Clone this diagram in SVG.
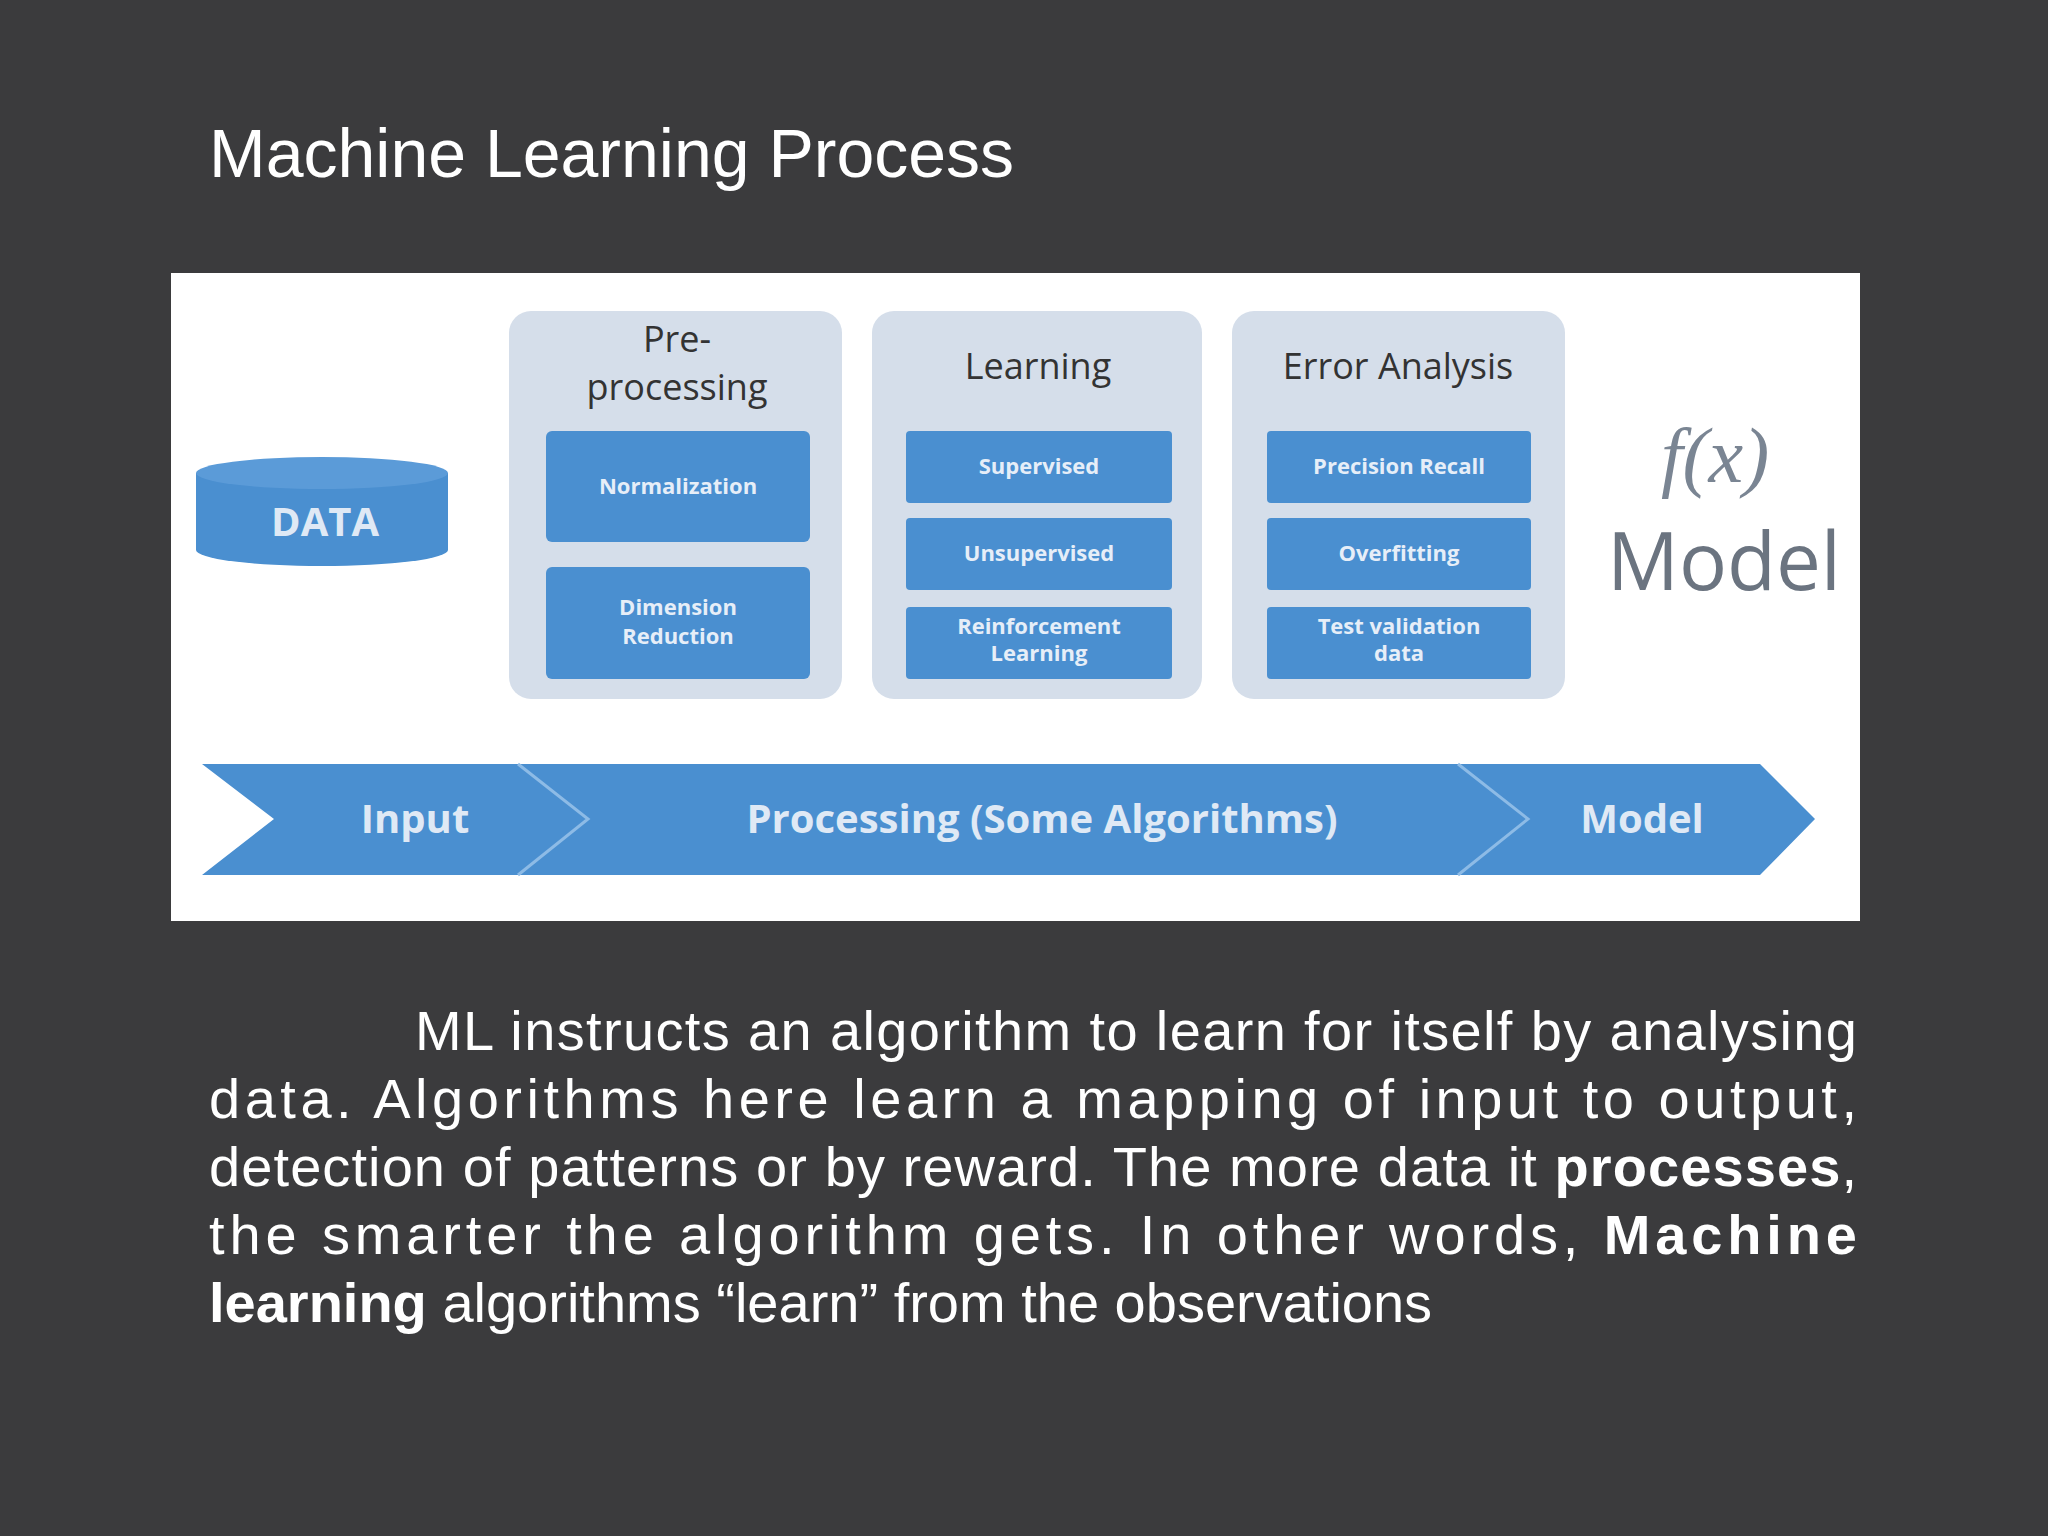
<svg xmlns="http://www.w3.org/2000/svg" width="2048" height="1536" viewBox="0 0 2048 1536">
<style>
.pn{fill:#d5deea}
.bx{fill:#4a8fd0}
.pt{font-family:"Open Sans","Liberation Sans",sans-serif;font-size:36px;fill:#333;text-anchor:middle}
.bt{font-family:"Open Sans","Liberation Sans",sans-serif;font-size:22px;fill:#e6eef8;text-anchor:middle;font-weight:bold}
.at{font-family:"Open Sans","Liberation Sans",sans-serif;font-size:40px;fill:#dfe9f5;text-anchor:middle;font-weight:bold}
.p{font-family:"Liberation Sans",Arial,sans-serif;font-size:56px;fill:#fff}
</style>
<rect width="2048" height="1536" fill="#3b3b3d"/>
<text x="209" y="177" font-family="Liberation Sans,Arial,sans-serif" font-size="68" fill="#fff">Machine Learning Process</text>
<rect x="171" y="273" width="1689" height="648" fill="#fff"/>
<g id="data">
<path d="M196 473 V550 A126 16 0 0 0 448 550 V473 Z" class="bx"/>
<ellipse cx="322" cy="473" rx="126" ry="16" fill="#5b9bd8"/>
<text x="325" y="536" class="at" font-size="34">DATA</text>
</g>
<g id="preprocessing">
<rect x="509" y="311" width="333" height="388" rx="22" class="pn"/>
<text x="677" y="352" class="pt">Pre-</text>
<text x="677" y="400" class="pt">processing</text>
<rect x="546" y="431" width="264" height="111" rx="6" class="bx"/>
<text x="678" y="494" class="bt">Normalization</text>
<rect x="546" y="567" width="264" height="112" rx="6" class="bx"/>
<text x="678" y="615" class="bt">Dimension</text>
<text x="678" y="644" class="bt">Reduction</text>
</g>
<g id="learning">
<rect x="872" y="311" width="330" height="388" rx="22" class="pn"/>
<text x="1038" y="379" class="pt">Learning</text>
<rect x="906" y="431" width="266" height="72" rx="4" class="bx"/>
<text x="1039" y="474" class="bt">Supervised</text>
<rect x="906" y="518" width="266" height="72" rx="4" class="bx"/>
<text x="1039" y="561" class="bt">Unsupervised</text>
<rect x="906" y="607" width="266" height="72" rx="4" class="bx"/>
<text x="1039" y="634" class="bt">Reinforcement</text>
<text x="1039" y="661" class="bt">Learning</text>
</g>
<g id="error">
<rect x="1232" y="311" width="333" height="388" rx="22" class="pn"/>
<text x="1398" y="379" class="pt">Error Analysis</text>
<rect x="1267" y="431" width="264" height="72" rx="4" class="bx"/>
<text x="1399" y="474" class="bt">Precision Recall</text>
<rect x="1267" y="518" width="264" height="72" rx="4" class="bx"/>
<text x="1399" y="561" class="bt">Overfitting</text>
<rect x="1267" y="607" width="264" height="72" rx="4" class="bx"/>
<text x="1399" y="634" class="bt">Test validation</text>
<text x="1399" y="661" class="bt">data</text>
</g>
<g id="model">
<text x="1715" y="482" font-family="Liberation Serif,serif" font-style="italic" font-size="78" fill="#7a8593" text-anchor="middle">f(x)</text>
<text x="1724" y="590" font-family="Open Sans,Liberation Sans,sans-serif" font-size="80" fill="#6b7480" text-anchor="middle">Model</text>
</g>
<g id="connectors">
<path d="M202 764 H1760 L1815 819 L1760 875 H202 L274 819 Z" fill="#4a8fd0"/>
<path d="M518 764 L588 819 L518 875 M1458 764 L1528 819 L1458 875" fill="none" stroke="#8dbbe6" stroke-width="3"/>
</g>
<g id="arrow-labels">
<text x="415" y="833" class="at">Input</text>
<text x="1042" y="833" class="at">Processing (Some Algorithms)</text>
<text x="1642" y="833" class="at">Model</text>
</g>
<g id="paragraph" class="p">
<text x="415" y="1050" textLength="1442" lengthAdjust="spacing">ML instructs an algorithm to learn for itself by analysing</text>
<text x="209" y="1118" textLength="1648" lengthAdjust="spacing">data. Algorithms here learn a mapping of input to output,</text>
<text x="209" y="1186" textLength="1648" lengthAdjust="spacing">detection of patterns or by reward. The more data it <tspan font-weight="bold">processes</tspan>,</text>
<text x="209" y="1254" textLength="1648" lengthAdjust="spacing">the smarter the algorithm gets. In other words, <tspan font-weight="bold">Machine</tspan></text>
<text x="209" y="1322"><tspan font-weight="bold">learning</tspan> algorithms “learn” from the observations</text>
</g>
</svg>
